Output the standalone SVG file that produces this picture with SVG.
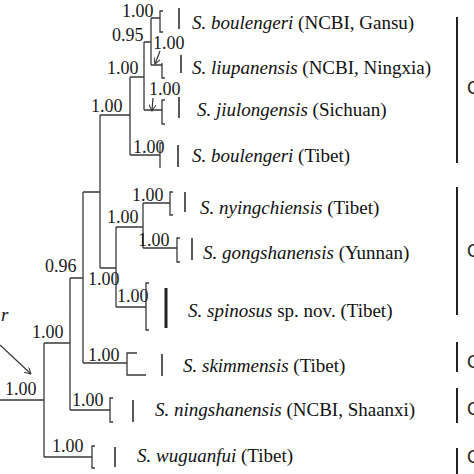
<svg xmlns="http://www.w3.org/2000/svg" width="474" height="474" viewBox="0 0 474 474">
<defs>
<style>
.t{stroke:#3a3a3a;stroke-width:1.3;fill:none}
.b{stroke:#222;stroke-width:1.5;fill:none}
.cb{stroke:#222;stroke-width:2;fill:none}
.n{font-family:"Liberation Serif","Times New Roman",serif;font-size:18px;fill:#1a1a1a}
.s{font-family:"Liberation Serif","Times New Roman",serif;font-size:19px;fill:#111}
.i{font-style:italic}
.c{font-family:"Liberation Sans",Arial,sans-serif;font-size:18px;fill:#222}
.a{stroke:#333;stroke-width:1.2;fill:none;marker-end:url(#ah)}
</style>
<marker id="ah" viewBox="0 0 10 10" refX="9" refY="5" markerWidth="7" markerHeight="7" orient="auto" markerUnits="userSpaceOnUse">
<path d="M0,0 L9,5 L0,10" fill="none" stroke="#333" stroke-width="1.4"/>
</marker>
</defs>
<rect width="474" height="474" fill="#fff"/>
<g id="connectors">
<path class="t" d="M0,400H44M44,343V457M44,343H70M44,457H92M70,278V410M70,278H83M70,410H110M83,192V363M83,192H100M83,363H127M100,115V268M100,115H130M100,268H116M116,227V307M116,227H143M116,307H146M143,203V248M143,203H170M143,248H177M130,77V155M130,77H144M130,155H160M144,42V110M144,42H151M144,110H162M151,18V65M151,18H160M151,65H162"/>
<path class="a" d="M0,345L31,374"/>
<path class="a" d="M160,51L155,64"/>
<path class="a" d="M153,98L152,111"/>
</g>
<g id="support">
<text class="n" x="122" y="17">1.00</text>
<text class="n" x="112" y="41">0.95</text>
<text class="n" x="153" y="49">1.00</text>
<text class="n" x="107" y="74">1.00</text>
<text class="n" x="149" y="95">1.00</text>
<text class="n" x="91" y="112">1.00</text>
<text class="n" x="133" y="153">1.00</text>
<text class="n" x="132" y="201">1.00</text>
<text class="n" x="107" y="223">1.00</text>
<text class="n" x="138" y="246">1.00</text>
<text class="n" x="45" y="272">0.96</text>
<text class="n" x="88" y="285">1.00</text>
<text class="n" x="117" y="302">1.00</text>
<text class="n" x="32" y="338">1.00</text>
<text class="n" x="88" y="361">1.00</text>
<text class="n" x="5" y="395">1.00</text>
<text class="n" x="72" y="406">1.00</text>
<text class="n" x="52" y="452">1.00</text>
<text class="s i" x="1" y="321">r</text>
</g>
<g id="leaf-gansu">
<path class="t" d="M163,11H160V32H163"/>
<path class="b" d="M179,8V29"/>
<text class="s" x="192" y="29"><tspan class="i">S. boulengeri</tspan> (NCBI, Gansu)</text>
</g>
<g id="leaf-liupanensis">
<path class="t" d="M162,63V78H165"/>
<path class="b" d="M181,55V73"/>
<text class="s" x="192" y="74"><tspan class="i">S. liupanensis</tspan> (NCBI, Ningxia)</text>
</g>
<g id="leaf-jiulongensis">
<path class="t" d="M165,100H162V124H165"/>
<path class="b" d="M179,97V118"/>
<text class="s" x="197" y="116"><tspan class="i">S. jiulongensis</tspan> (Sichuan)</text>
</g>
<g id="leaf-boulengeri-tibet">
<path class="t" d="M163,143H160V168"/>
<path class="b" d="M178,145V167"/>
<text class="s" x="192" y="162"><tspan class="i">S. boulengeri</tspan> (Tibet)</text>
</g>
<g id="leaf-nyingchiensis">
<path class="t" d="M173,192H170V215H173"/>
<path class="b" d="M185,192V212"/>
<text class="s" x="200" y="214"><tspan class="i">S. nyingchiensis</tspan> (Tibet)</text>
</g>
<g id="leaf-gongshanensis">
<path class="t" d="M180,238H177V262H180"/>
<path class="b" d="M192,238V260"/>
<text class="s" x="203" y="259"><tspan class="i">S. gongshanensis</tspan> (Yunnan)</text>
</g>
<g id="leaf-spinosus">
<path class="t" d="M149,283H146V330H149"/>
<path class="b" d="M166,288V328" style="stroke-width:3"/>
<text class="s" x="188" y="317"><tspan class="i">S. spinosus</tspan> sp. nov. (Tibet)</text>
</g>
<g id="leaf-skimmensis">
<path class="t" d="M137,353H127V375H146"/>
<path class="b" d="M162,354V376"/>
<text class="s" x="183" y="372"><tspan class="i">S. skimmensis</tspan> (Tibet)</text>
</g>
<g id="leaf-ningshanensis">
<path class="t" d="M113,398H110V422H113"/>
<path class="b" d="M133,400V422"/>
<text class="s" x="155" y="416"><tspan class="i">S. ningshanensis</tspan> (NCBI, Shaanxi)</text>
</g>
<g id="leaf-wuguanfui">
<path class="t" d="M95,446H92V468H95"/>
<path class="b" d="M115,447V467"/>
<text class="s" x="137" y="462"><tspan class="i">S. wuguanfui</tspan> (Tibet)</text>
</g>
<g id="clades">
<path class="cb" d="M457,17V163M457,187V315M457,342V372M457,388V423M457,448V474"/>
<text class="c" x="467" y="94">C</text>
<text class="c" x="467" y="257">C</text>
<text class="c" x="467" y="368">C</text>
<text class="c" x="467" y="415">C</text>
<text class="c" x="467" y="463">C</text>
</g>
</svg>
